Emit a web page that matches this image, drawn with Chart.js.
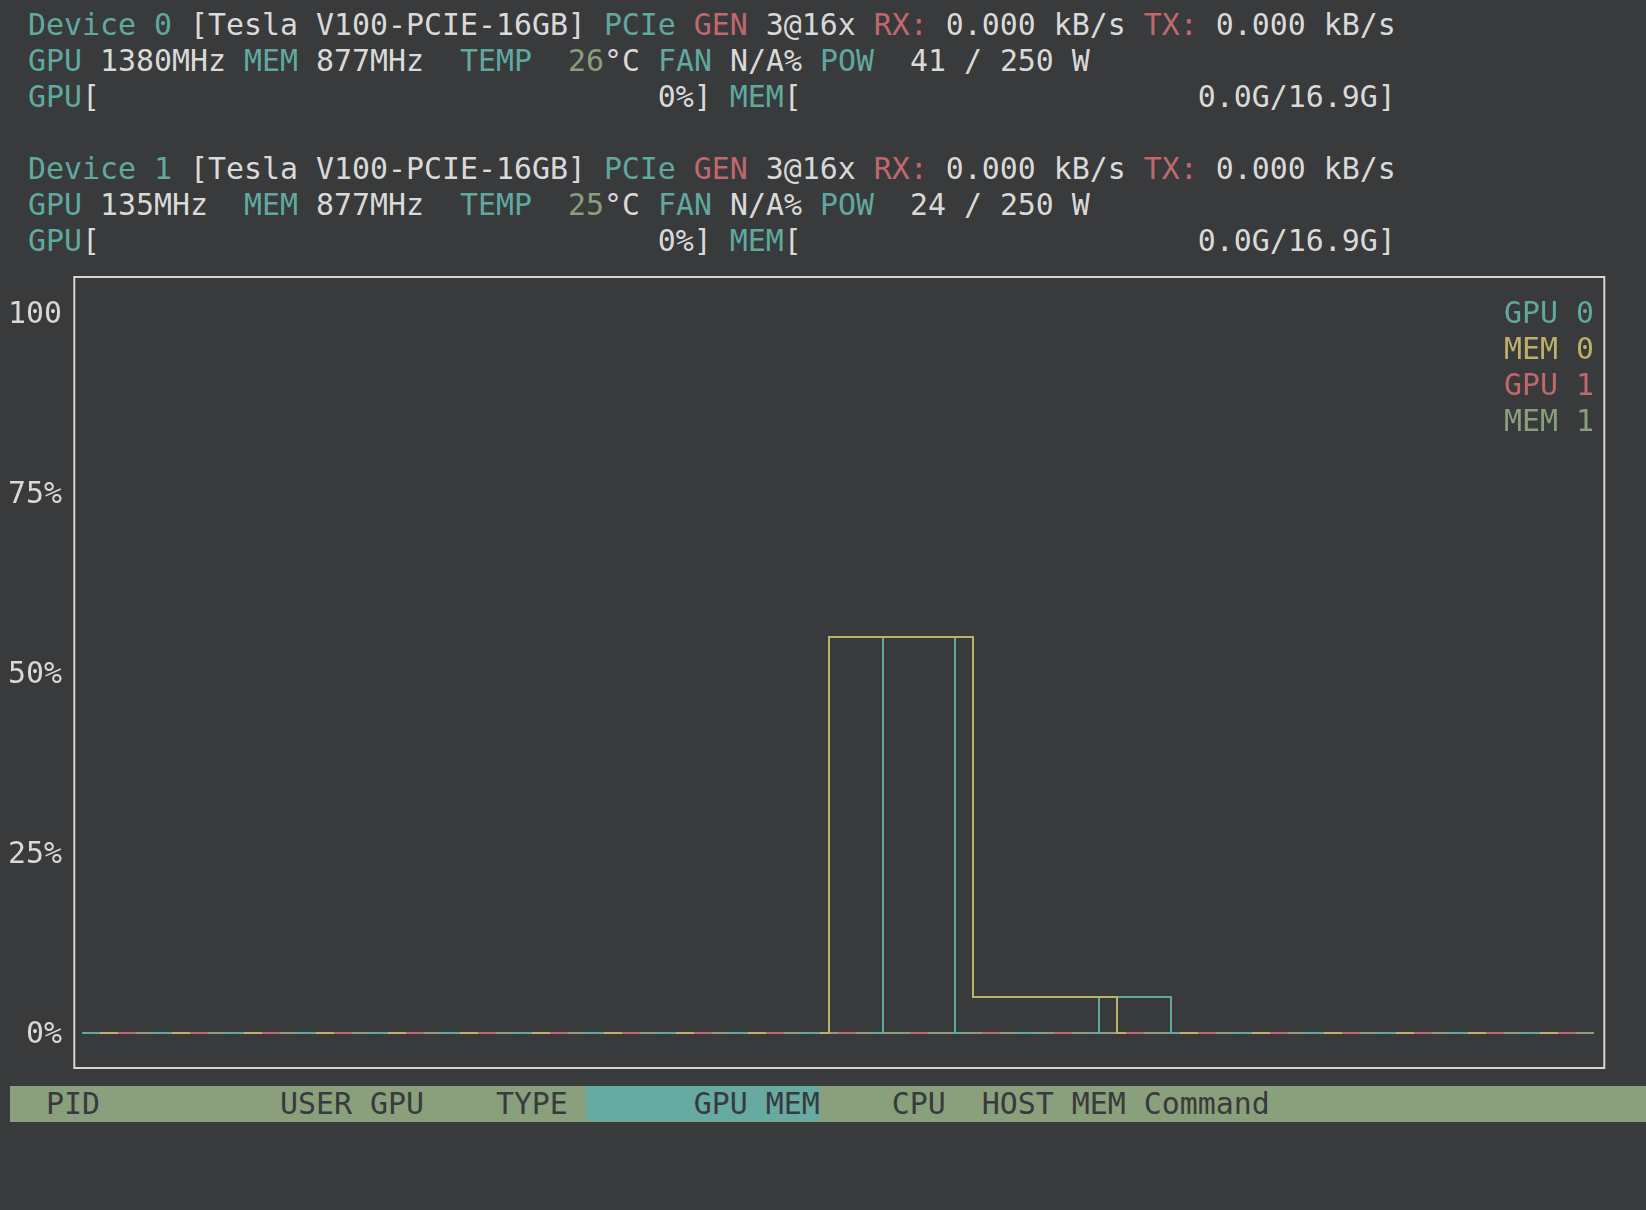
<!DOCTYPE html>
<html>
<head>
<meta charset="utf-8">
<script src="https://cdn.jsdelivr.net/npm/chart.js@4/dist/chart.umd.min.js"></script>
<style>
  html, body { margin: 0; padding: 0; background: #393a3c; width: 1646px; height: 1210px; overflow: hidden; }
  .term { position: absolute; font-family: "DejaVu Sans Mono", monospace; font-size: 29.9px; line-height: 36px; white-space: pre; color: #d9d9d9; margin: 0; }
  .t { color: #5fa99f; }
  .r { color: #c0686b; }
  .g { color: #8a9f7b; }
  #head { top: 7px; left: 28px; }
  #bar { top: 1086px; left: 10px; right: 0; height: 36px; background: #8a9f7b; color: #393a3c; }
  #bar .hl { background: #66aaa1; }
  #wrap { position: absolute; top: 0; left: 0; width: 1646px; height: 1080px; }
</style>
</head>
<body>
<pre class="term" id="head"><span class="t">Device 0</span> [Tesla V100-PCIE-16GB] <span class="t">PCIe</span> <span class="r">GEN</span> 3@16x <span class="r">RX:</span> 0.000 kB/s <span class="r">TX:</span> 0.000 kB/s
<span class="t">GPU</span> 1380MHz <span class="t">MEM</span> 877MHz  <span class="t">TEMP</span>  <span class="g">26</span>°C <span class="t">FAN</span> N/A% <span class="t">POW</span>  41 / 250 W
<span class="t">GPU</span>[                               0%] <span class="t">MEM</span>[                      0.0G/16.9G]

<span class="t">Device 1</span> [Tesla V100-PCIE-16GB] <span class="t">PCIe</span> <span class="r">GEN</span> 3@16x <span class="r">RX:</span> 0.000 kB/s <span class="r">TX:</span> 0.000 kB/s
<span class="t">GPU</span> 135MHz  <span class="t">MEM</span> 877MHz  <span class="t">TEMP</span>  <span class="g">25</span>°C <span class="t">FAN</span> N/A% <span class="t">POW</span>  24 / 250 W
<span class="t">GPU</span>[                               0%] <span class="t">MEM</span>[                      0.0G/16.9G]</pre>
<div id="wrap"><canvas id="chart"></canvas></div>
<div class="term" id="bar">  PID          USER GPU    TYPE <span class="hl">      GPU MEM</span>    CPU  HOST MEM Command</div>
<script>
// utilisation history, one sample per column (%)
const gpu0 = [
    0, 0, 0, 0, 0, 0, 0, 0, 0, 0, 0, 0, 0, 0, 0, 0, 0, 0, 0, 0,
    0, 0, 0, 0, 0, 0, 0, 0, 0, 0, 0, 0, 0, 0, 0, 0, 0, 0, 0, 0,
    0, 0, 0, 0, 0, 55, 55, 55, 55, 0, 0, 0, 0, 0, 0, 0, 0, 5, 5, 5,
    5, 0, 0, 0, 0, 0, 0, 0, 0, 0, 0, 0, 0, 0, 0, 0, 0, 0, 0, 0,
    0, 0, 0, 0, 0
];
const mem0 = [
    0, 0, 0, 0, 0, 0, 0, 0, 0, 0, 0, 0, 0, 0, 0, 0, 0, 0, 0, 0,
    0, 0, 0, 0, 0, 0, 0, 0, 0, 0, 0, 0, 0, 0, 0, 0, 0, 0, 0, 0,
    0, 0, 55, 55, 55, 55, 55, 55, 55, 55, 5, 5, 5, 5, 5, 5, 5, 5, 0, 0,
    0, 0, 0, 0, 0, 0, 0, 0, 0, 0, 0, 0, 0, 0, 0, 0, 0, 0, 0, 0,
    0, 0, 0, 0, 0
];
const gpu1 = [
    0, 0, 0, 0, 0, 0, 0, 0, 0, 0, 0, 0, 0, 0, 0, 0, 0, 0, 0, 0,
    0, 0, 0, 0, 0, 0, 0, 0, 0, 0, 0, 0, 0, 0, 0, 0, 0, 0, 0, 0,
    0, 0, 0, 0, 0, 0, 0, 0, 0, 0, 0, 0, 0, 0, 0, 0, 0, 0, 0, 0,
    0, 0, 0, 0, 0, 0, 0, 0, 0, 0, 0, 0, 0, 0, 0, 0, 0, 0, 0, 0,
    0, 0, 0, 0, 0
];
const mem1 = [
    0, 0, 0, 0, 0, 0, 0, 0, 0, 0, 0, 0, 0, 0, 0, 0, 0, 0, 0, 0,
    0, 0, 0, 0, 0, 0, 0, 0, 0, 0, 0, 0, 0, 0, 0, 0, 0, 0, 0, 0,
    0, 0, 0, 0, 0, 0, 0, 0, 0, 0, 0, 0, 0, 0, 0, 0, 0, 0, 0, 0,
    0, 0, 0, 0, 0, 0, 0, 0, 0, 0, 0, 0, 0, 0, 0, 0, 0, 0, 0, 0,
    0, 0, 0, 0, 0
];
const seriesNames = ['GPU 0', 'MEM 0', 'GPU 1', 'MEM 1'];
const yTicks = [0, 25, 50, 75, 100];
const yTickLabels = ['0%', '25%', '50%', '75%', '100'];

const colors = ['#5fa99f', '#bdb167', '#c0686b', '#8a9f7b'];
const MONO = '"DejaVu Sans Mono", monospace';
const labels = gpu0.map((v, i) => i);

// the flat 0% line is shared by all series, one column each in turn
function shareBase(values, phase) {
    return ctx => (values[ctx.p0DataIndex] === 0 && values[ctx.p1DataIndex] === 0 && ctx.p0DataIndex % 4 !== phase)
        ? 'transparent' : undefined;
}

const frame = {
    id: 'frame',
    afterDraw(chart) {
        const {ctx, chartArea: a} = chart;
        ctx.save();
        ctx.strokeStyle = '#d6d6d6';
        ctx.lineWidth = 2;
        ctx.strokeRect(a.left + 1.3, a.top, a.right - a.left, a.bottom - a.top);
        // legend, right aligned in the top corner
        ctx.font = '29.9px ' + MONO;
        ctx.textAlign = 'right';
        ctx.textBaseline = 'middle';
        const y0 = chart.scales.y.getPixelForValue(100);
        chart.data.datasets.forEach((ds, i) => {
            ctx.fillStyle = ds.borderColor;
            ctx.fillText(ds.label, a.right - 9, y0 + i * 36 + 2);
        });
        ctx.restore();
    }
};

const series = [gpu0, mem0, gpu1, mem1];
const drawOrder = [1, 0, 2, 3];

new Chart(document.getElementById('chart'), {
    type: 'line',
    data: {
        labels: labels,
        datasets: series.map((values, i) => ({
            label: seriesNames[i],
            data: values,
            borderColor: colors[i],
            borderWidth: 2,
            pointRadius: 0,
            stepped: 'middle',
            order: drawOrder[i],
            segment: i === 3 ? {} : { borderColor: shareBase(values, i) }
        }))
    },
    options: {
        responsive: true,
        maintainAspectRatio: false,
        animation: false,
        layout: { padding: { top: 277, bottom: 12, left: 0, right: 43 } },
        plugins: { legend: { display: false }, tooltip: { enabled: false } },
        scales: {
            x: { type: 'category', offset: true, display: false },
            y: {
                min: -4.86,
                max: 105,
                afterFit: s => { s.width = 73; s.paddingTop = 0; s.paddingBottom = 0; },
                afterBuildTicks: s => { s.ticks = yTicks.map(v => ({ value: v })); },
                grid: { display: false, drawTicks: false },
                border: { display: false },
                ticks: {
                    padding: 11,
                    labelOffset: 2,
                    color: '#d9d9d9',
                    font: { family: MONO, size: 29.9 },
                    callback: v => yTickLabels[yTicks.indexOf(v)]
                }
            }
        }
    },
    plugins: [frame]
});
</script>
</body>
</html>
